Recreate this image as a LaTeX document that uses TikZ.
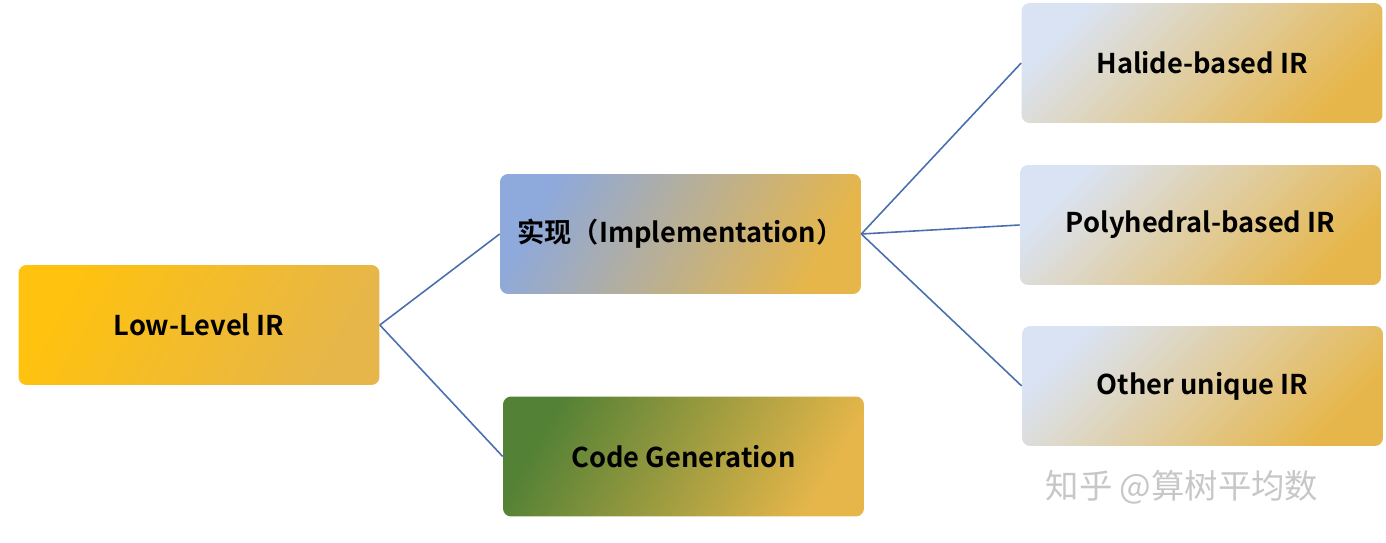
\documentclass[tikz,border=0pt]{standalone}
\usepackage{fontspec}
\setmainfont{Noto Sans CJK SC}[BoldFont={Noto Sans CJK SC Bold}]
\definecolor{gold}{HTML}{E6B64A}
\definecolor{yel}{HTML}{FFC20E}
\definecolor{blu}{HTML}{8EA9DB}
\definecolor{grn}{HTML}{538135}
\definecolor{lite}{HTML}{DAE3F3}
\definecolor{ln}{HTML}{4A6FAE}
\tikzset{
 box/.style={rounded corners=0.16cm, minimum width=7.22cm, minimum height=2.4cm, inner sep=0pt, font=\fontsize{15.5}{18}\selectfont\bfseries},
 gy/.style={box, left color=yel, right color=gold, shading angle=60},
 gb/.style={box, left color=blu, right color=gold, shading angle=60},
 gg/.style={box, left color=grn, right color=gold, shading angle=60},
 gl/.style={box, left color=lite, right color=gold, shading angle=45},
 conn/.style={draw=ln, line width=0.9pt}
}
\begin{document}
\begin{tikzpicture}[x=0.02cm,y=-0.02cm]
\useasboundingbox (0,0) rectangle (1386,543);
\node[gy] (low) at (199,325) {Low-Level IR};
\node[gb] (impl) at (680.5,234) {实现（Implementation）};
\node[gg] (code) at (683.5,456.5) {Code Generation};
\node[gl] (hal) at (1202,63) {Halide-based IR};
\node[gl] (poly) at (1200.5,225) {Polyhedral-based IR};
\node[gl] (oth) at (1202.5,386) {Other unique IR};
\draw[conn] (low.east) -- (impl.west);
\draw[conn] (low.east) -- (code.west);
\draw[conn] (impl.east) -- (hal.west);
\draw[conn] (impl.east) -- (poly.west);
\draw[conn] (impl.east) -- (oth.west);
\node[text=black!22, font=\fontsize{19}{22}\selectfont] (wm) at (1182,487) {知乎 @算树平均数};
\end{tikzpicture}
\end{document}
